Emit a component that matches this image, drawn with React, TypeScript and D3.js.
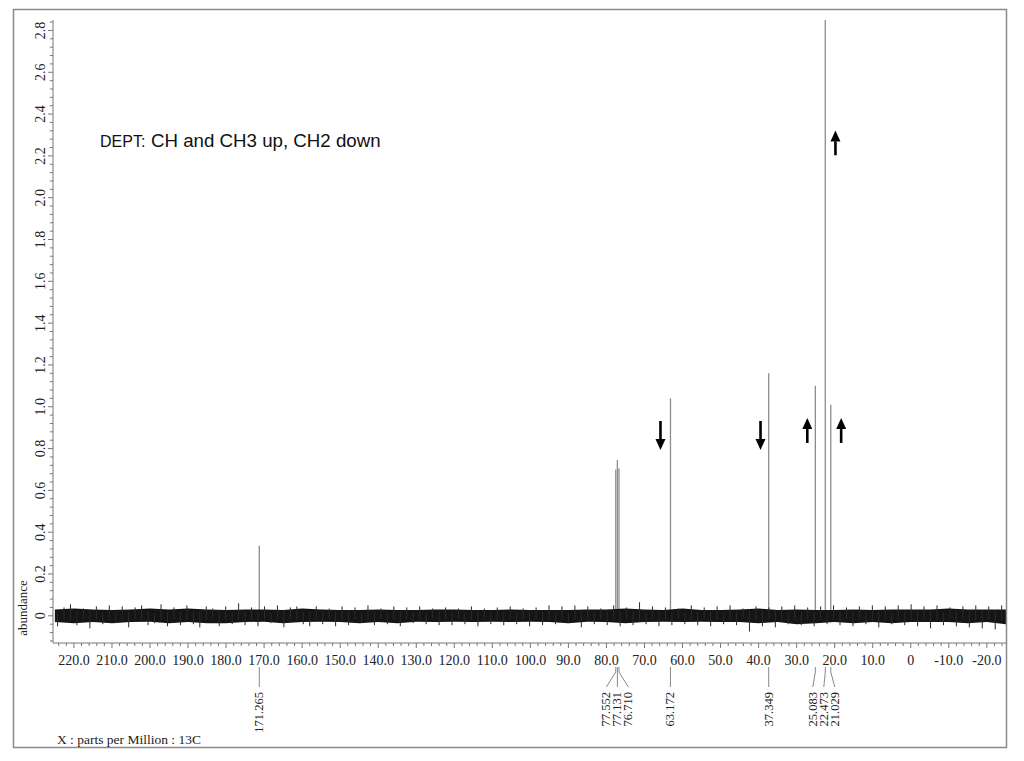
import React from 'react';
import * as d3 from 'd3';

// chemical shifts (ppm) and heights
const peakPpm = [171.265, 77.552, 77.131, 76.71, 63.172, 37.349, 25.083, 22.473, 21.029];
const peakHeight = [0.335, 0.7, 0.745, 0.705, 1.04, 1.16, 1.1, 2.85, 1.01];
const peakGroup = [0, 1, 1, 1, 2, 3, 4, 4, 4];

const xTickValues = [220, 210, 200, 190, 180, 170, 160, 150, 140, 130, 120, 110, 100, 90, 80, 70, 60, 50, 40, 30, 20, 10, 0, -10, -20];
const yTickValues = [0, 0.2, 0.4, 0.6, 0.8, 1.0, 1.2, 1.4, 1.6, 1.8, 2.0, 2.2, 2.4, 2.6, 2.8];

// dense core of the baseline noise, every 5 ppm from 225 down to -25
const noisePpm = d3.range(225, -26, -5);
const noiseTop = [0.03, 0.035, 0.03, 0.028, 0.03, 0.035, 0.03, 0.035, 0.03, 0.028, 0.03, 0.03, 0.028, 0.035, 0.03, 0.028, 0.028, 0.03, 0.028, 0.028, 0.03, 0.03, 0.028, 0.028, 0.03, 0.028, 0.028, 0.028, 0.03, 0.03, 0.035, 0.03, 0.028, 0.035, 0.028, 0.028, 0.03, 0.035, 0.028, 0.03, 0.028, 0.028, 0.03, 0.028, 0.03, 0.03, 0.03, 0.035, 0.03, 0.03, 0.03];
const noiseBottom = [-0.03, -0.035, -0.03, -0.035, -0.03, -0.028, -0.035, -0.03, -0.035, -0.035, -0.03, -0.028, -0.035, -0.03, -0.028, -0.03, -0.035, -0.03, -0.035, -0.028, -0.03, -0.028, -0.03, -0.028, -0.03, -0.028, -0.03, -0.035, -0.028, -0.03, -0.035, -0.03, -0.028, -0.03, -0.028, -0.03, -0.03, -0.035, -0.03, -0.04, -0.035, -0.03, -0.035, -0.03, -0.035, -0.03, -0.03, -0.03, -0.035, -0.03, -0.04];

// noise spikes sticking out of the band, one every 1.7 ppm from 224.3 ppm upfield
const spikePpm = d3.range(224.3, -25, -1.7);
const spikeVal = [
  -0.05, 0.04, 0.055, -0.045, 0.035, -0.06, 0.045, -0.04, 0.05, -0.035,
  0.045, -0.055, 0.04, 0.05, -0.045, -0.035, 0.055, -0.05, 0.04, -0.045,
  0.05, -0.04, -0.055, 0.045, 0.035, -0.05, 0.045, -0.04, 0.06, -0.045,
  0.04, -0.05, 0.045, -0.035, 0.05, -0.055, 0.04, 0.045, -0.04, -0.05,
  0.045, -0.04, 0.035, -0.05, 0.045, -0.045, 0.04, -0.035, 0.05, -0.045,
  0.035, -0.04, 0.045, -0.05, 0.04, -0.035, 0.045, -0.04, 0.035, -0.045,
  0.04, -0.045, 0.035, -0.04, 0.045, -0.05, 0.035, -0.04, 0.04, -0.045,
  0.045, -0.04, 0.035, -0.05, 0.04, -0.045, 0.05, -0.04, 0.045, -0.035,
  0.05, -0.055, 0.045, -0.04, 0.035, -0.045, 0.05, -0.05, 0.04, -0.045,
  0.065, -0.04, 0.045, -0.05, 0.04, -0.045, 0.035, -0.04, 0.05, -0.045,
  0.04, -0.05, 0.045, -0.04, 0.05, -0.045, 0.035, -0.075, 0.045, -0.05,
  0.04, -0.055, 0.045, -0.04, 0.05, -0.045, 0.04, -0.05, 0.045, -0.04,
  0.05, -0.045, 0.04, -0.05, 0.045, -0.04, 0.05, -0.055, 0.045, -0.04,
  0.05, -0.045, 0.055, -0.05, 0.045, -0.06, 0.05, -0.045, 0.04, -0.05,
  0.045, -0.055, 0.05, -0.06, 0.045, -0.065, 0.05,
];

// DEPT arrows: ppm, top, bottom, direction
const arrowPpm = [65.8, 39.5, 27.2, 18.3, 19.8];
const arrowTop = [0.932, 0.932, 0.946, 0.946, 2.322];
const arrowBottom = [0.793, 0.793, 0.827, 0.827, 2.203];
const arrowUp = [false, false, true, true, true];

const W = 1024;
const H = 761;
const left = 53;
const right = 1007;
const top = 20;
const bottom = 643;
const serif = '"Liberation Serif", "Times New Roman", serif';
const sans = '"Liberation Sans", Arial, sans-serif';

export default function App() {
  const x = d3.scaleLinear().domain([225.5, -25.3]).range([left, right]);
  const y = d3.scaleLinear().domain([-0.13, 2.85]).range([bottom, top]);

  const band = d3
    .area<number>()
    .x((d) => x(d))
    .y0((_, i) => y(noiseBottom[i]))
    .y1((_, i) => y(noiseTop[i]));

  const xMinor = d3.range(224, -25, -2).filter((v) => v % 10 !== 0);
  const yMinor = d3.range(-12, 285, 4).map((v) => v / 100).filter((v) => Math.abs(v * 5 - Math.round(v * 5)) > 1e-6);

  // spread clustered peak labels 11px apart around the group's centre
  const labelX: number[] = peakPpm.map((p, i) => {
    const members = peakPpm.map((_, j) => j).filter((j) => peakGroup[j] === peakGroup[i]);
    const c = d3.mean(members, (j) => x(peakPpm[j])) as number;
    const k = members.indexOf(i);
    return c + (k - (members.length - 1) / 2) * 11;
  });

  const fmt = (v: number) => (v === 0 ? '0' : v.toFixed(1));

  return (
    <svg width={W} height={H} style={{ position: 'absolute', left: 0, top: 0, background: '#fff' }}>
      <rect x={13.5} y={9.5} width={993} height={738} fill="none" stroke="#8a8a8a" strokeWidth={1.5} />

      {/* peaks */}
      {peakPpm.map((p, i) => (
        <line key={'p' + i} x1={x(p)} x2={x(p)} y1={y(0)} y2={y(peakHeight[i])} stroke="#8c8c8c" strokeWidth={1.3} />
      ))}

      {/* noise */}
      <path d={band(noisePpm) as string} fill="#151515" />
      {spikeVal.map((v, i) => (
        <line key={'s' + i} x1={x(spikePpm[i])} x2={x(spikePpm[i])} y1={y(-v * 0.4)} y2={y(v)} stroke="#2a2a2a" strokeWidth={1} />
      ))}

      {/* y axis */}
      <line x1={left} x2={left} y1={top} y2={bottom} stroke="#777" strokeWidth={1} />
      {yMinor.map((v, i) => (
        <line key={'ym' + i} x1={left - 3} x2={left} y1={y(v)} y2={y(v)} stroke="#777" />
      ))}
      {yTickValues.map((v) => (
        <g key={'yt' + v}>
          <line x1={left - 5} x2={left} y1={y(v)} y2={y(v)} stroke="#777" />
          <text transform={`translate(45,${y(v)}) rotate(-90)`} textAnchor="middle" fontFamily={serif} fontSize={14} fill="#222">
            {fmt(v)}
          </text>
        </g>
      ))}
      <text transform={`translate(27,608) rotate(-90)`} textAnchor="middle" fontFamily={serif} fontSize={13} fill="#222">
        abundance
      </text>

      {/* x axis */}
      <line x1={left} x2={right} y1={bottom} y2={bottom} stroke="#777" strokeWidth={1} />
      {xMinor.map((v) => (
        <line key={'xm' + v} x1={x(v)} x2={x(v)} y1={bottom} y2={bottom + 3} stroke="#777" />
      ))}
      {xTickValues.map((v) => (
        <g key={'xt' + v}>
          <line x1={x(v)} x2={x(v)} y1={bottom} y2={bottom + 5} stroke="#777" />
          <text x={x(v)} y={665} textAnchor="middle" fontFamily={serif} fontSize={14} fill="#222">
            {fmt(v)}
          </text>
        </g>
      ))}

      {/* peak labels */}
      {peakPpm.map((p, i) => (
        <g key={'l' + i}>
          <polyline points={`${x(p)},667 ${x(p)},672 ${labelX[i]},687`} fill="none" stroke="#888" strokeWidth={1} />
          <text transform={`translate(${labelX[i] + 4},692) rotate(-90)`} textAnchor="end" fontFamily={serif} fontSize={12.5} fill="#222">
            {p.toFixed(3)}
          </text>
        </g>
      ))}

      {/* arrows */}
      {arrowPpm.map((p, i) => {
        const cx = x(p);
        const t = y(arrowTop[i]);
        const b = y(arrowBottom[i]);
        const tip = arrowUp[i] ? t : b;
        const base = arrowUp[i] ? t + 11 : b - 11;
        return (
          <g key={'a' + i}>
            <line x1={cx} x2={cx} y1={arrowUp[i] ? base : t} y2={arrowUp[i] ? b : base} stroke="#000" strokeWidth={2.6} />
            <path d={`M${cx},${tip} L${cx - 5},${base} L${cx + 5},${base} Z`} fill="#000" />
          </g>
        );
      })}

      <text x={100} y={147} fontFamily={sans} fontSize={16} fill="#111">DEPT:</text>
      <text x={151} y={147} fontFamily={sans} fontSize={18.7} fill="#111">CH and CH3 up, CH2 down</text>

      <text x={57} y={744} fontFamily={serif} fontSize={13.5} fill="#222">X : parts per Million : 13C</text>
    </svg>
  );
}
